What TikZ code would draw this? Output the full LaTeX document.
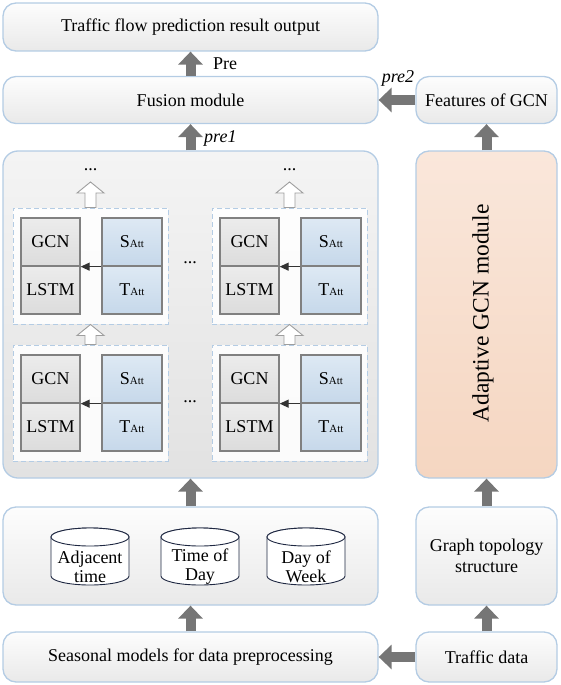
\documentclass[tikz,border=0pt]{standalone}
\usepackage{fontspec}
\setmainfont{Liberation Serif}
\usetikzlibrary{arrows.meta,calc}
\definecolor{bordblue}{RGB}{180,204,228}
\definecolor{darr}{RGB}{118,118,118}
\definecolor{boxtop}{RGB}{253,253,253}
\definecolor{boxbot}{RGB}{233,233,233}
\definecolor{graytop}{RGB}{244,244,244}
\definecolor{graybot}{RGB}{226,226,226}
\definecolor{peachtop}{RGB}{250,231,219}
\definecolor{peachbot}{RGB}{245,214,193}
\definecolor{gcntop}{RGB}{236,236,236}
\definecolor{gcnbot}{RGB}{220,220,220}
\definecolor{stop}{RGB}{222,233,244}
\definecolor{sbot}{RGB}{198,216,234}
\definecolor{innerborder}{RGB}{128,128,128}
\definecolor{cylline}{RGB}{31,40,66}
\newcommand\hollowup[2]{%
  \draw[hollow] let \p1=(#1), \p2=(#2) in
    (\x1-5.5pt,\y1) -- (\x1-5.5pt,\y2-11pt) -- (\x1-13.5pt,\y2-11pt) -- (\x1,\y2)
    -- (\x1+13.5pt,\y2-11pt) -- (\x1+5.5pt,\y2-11pt) -- (\x1+5.5pt,\y1) -- cycle;}
\begin{document}
\begin{tikzpicture}[x=1pt,y=-1pt,
  every node/.style={font=\fontsize{18}{21.5}\selectfont, inner sep=0pt},
  rbox/.style={draw=bordblue, line width=1.3pt, rounded corners=13pt,
    top color=boxtop, bottom color=boxbot, align=center},
  bigbox/.style={draw=bordblue, line width=1.3pt, rounded corners=15pt,
    top color=graytop, bottom color=graybot},
  peachbox/.style={draw=bordblue, line width=1.3pt, rounded corners=13pt,
    top color=peachtop, bottom color=peachbot},
  dbox/.style={draw=bordblue, line width=1pt, dash pattern=on 5pt off 3pt,
    fill=white, fill opacity=0.88, minimum width=155pt, minimum height=116pt},
  gbox/.style={draw=innerborder, line width=1.3pt, top color=gcntop, bottom color=gcnbot,
    minimum width=59pt, minimum height=48pt},
  sbox/.style={draw=innerborder, line width=1.3pt, top color=stop, bottom color=sbot,
    minimum width=60pt, minimum height=48pt},
  bigarr/.style={draw=darr, line width=10pt, -{Triangle[width=24pt,length=13pt]}},
  smallarr/.style={draw=black!80, line width=1.2pt, -{Triangle[width=8pt,length=9pt]}},
  hollow/.style={draw=black!38, line width=0.9pt, fill=white},
  cyl/.style={draw=cylline, line width=0.9pt, fill=white},
  lbl/.style={font=\fontsize{18}{21.5}\selectfont\itshape}
]
\useasboundingbox (0,0) rectangle (561,685);

% main boxes
\node[rbox, minimum width=375pt, minimum height=48pt] (out) at (190.5,27) {Traffic flow prediction result output};
\node[rbox, minimum width=375pt, minimum height=47pt] (fusion) at (190.5,100) {Fusion module};
\node[rbox, minimum width=141pt, minimum height=47pt] (feat) at (486.5,100) {Features of GCN};
\node[bigbox, minimum width=375pt, minimum height=327pt] (gray) at (190.5,314.5) {};
\node[peachbox, minimum width=141pt, minimum height=327pt] (adapt) at (486.5,314.5) {};
\node[rotate=90, font=\fontsize{23.5}{28}\selectfont] (adapttext) at (483,313.5) {Adaptive GCN module};
\node[rbox, minimum width=375pt, minimum height=98pt] (mid) at (190.5,556) {};
\node[rbox, minimum width=141pt, minimum height=98pt] (graph) at (486.5,556) {Graph topology\\structure};
\node[rbox, minimum width=375pt, minimum height=50pt] (seas) at (190.5,657) {Seasonal models for data preprocessing};
\node[rbox, minimum width=141pt, minimum height=50pt] (traf) at (486.5,657) {Traffic data};

% modules inside the gray box
\foreach \dx/\dy/\i in {13/208/1, 212/208/2, 13/345/3, 212/345/4} {
  \node[dbox] (d\i) at (\dx+77.5,\dy+58) {};
  \node[gbox] (g\i) at (\dx+37.5,\dy+34) {GCN};
  \node[gbox] (l\i) at (\dx+37.5,\dy+82) {LSTM};
  \node[sbox] (s\i) at (\dx+119,\dy+34) {S{\fontsize{11}{11}\selectfont Att}};
  \node[sbox] (t\i) at (\dx+119,\dy+82) {T{\fontsize{11}{11}\selectfont Att}};
  \draw[smallarr] (s\i.south west) -- (g\i.south east);
}
\node (dt1) at (90.5,170) {...};
\node (dt2) at (289.5,170) {...};
\node (dm1) at (190,263) {...};
\node (dm2) at (190,402) {...};
\coordinate (tip1) at (90.5,182);
\coordinate (tip2) at (289.5,182);
\hollowup{d1.north}{tip1}
\hollowup{d2.north}{tip2}
\hollowup{d3.north}{d1.south}
\hollowup{d4.north}{d2.south}

% cylinders
\foreach \cx/\i/\txt in {90/1/{Adjacent\\time}, 200/2/{Time of\\Day}, 306/3/{Day of\\Week}} {
  \draw[cyl] (\cx-39,537) -- (\cx-39,576) arc[start angle=180,end angle=360,x radius=39pt,y radius=9pt]
    -- (\cx+39,537) arc[start angle=0,end angle=180,x radius=39pt,y radius=9pt] -- cycle;
  \draw[cyl] (\cx,537) ellipse[x radius=39pt,y radius=9pt];
  \node[align=center, font=\fontsize{18}{19}\selectfont] (c\i) at (\cx,567) {\txt};
}

% connectors
\draw[bigarr] (fusion.north) -- (out.south);
\draw[bigarr] (gray.north) -- (fusion.south);
\draw[bigarr] (feat.west) -- (fusion.east);
\draw[bigarr] (adapt.north) -- (feat.south);
\draw[bigarr] (mid.north) -- (gray.south);
\draw[bigarr] (graph.north) -- (adapt.south);
\draw[bigarr] (seas.north) -- (mid.south);
\draw[bigarr] (traf.north) -- (graph.south);
\draw[bigarr] (traf.west) -- (seas.east);

% labels
\node[anchor=west] (prelbl) at (213,64) {Pre};
\node[lbl, anchor=west] (pre1lbl) at (204,138) {pre1};
\node[lbl] (pre2lbl) at (398,78) {pre2};
\end{tikzpicture}
\end{document}
